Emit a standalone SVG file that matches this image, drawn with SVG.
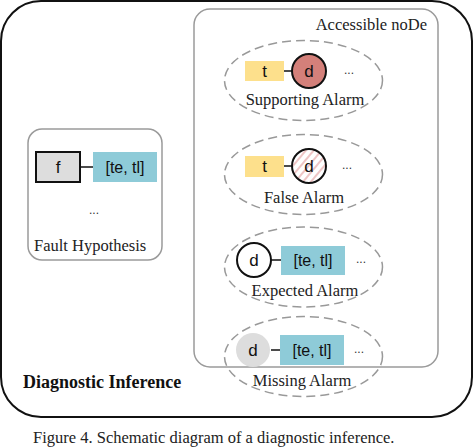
<svg xmlns="http://www.w3.org/2000/svg" width="474" height="448" viewBox="0 0 474 448">
<defs>
<pattern id="hatch" patternUnits="userSpaceOnUse" width="6" height="6" patternTransform="rotate(40)">
<rect width="6" height="6" fill="#ffffff"/>
<line x1="1" y1="0" x2="1" y2="6" stroke="#de8c8c" stroke-width="1"/>
</pattern>
</defs>
<style>
.frame{fill:#fff;stroke:#111;stroke-width:2}
.box{fill:#fff;stroke:#9a9a9a;stroke-width:1.5}
.ell{fill:none;stroke:#999;stroke-width:1.5;stroke-dasharray:9 5}
.serif{font-family:"Liberation Serif","Times New Roman",serif;font-size:16.5px;fill:#222}
.sans{font-family:"Liberation Sans",Arial,sans-serif;font-size:16px;fill:#111}
.lt{font-size:17px}
.yel{fill:#fde08c}
.blu{fill:#8ecbd8}
.dc{stroke:#111;stroke-width:2}
.ln{stroke:#111;stroke-width:1.5}
.dots{font-family:"Liberation Sans",Arial,sans-serif;font-size:12px;fill:#333}
</style>
<rect class="frame" x="1" y="1" width="471" height="416" rx="40"/>
<text class="serif" x="33" y="443">Figure 4. Schematic diagram of a diagnostic inference.</text>
<text class="serif" x="23" y="388" style="font-weight:bold;fill:#111;font-size:18px">Diagnostic Inference</text>

<g id="fault-hypothesis">
<rect class="box" x="28" y="129" width="134" height="131" rx="14"/>
<rect x="36" y="152" width="44" height="30" fill="#dddddd" stroke="#111" stroke-width="2"/>
<text class="sans lt" x="58" y="173" text-anchor="middle">f</text>
<rect class="blu" x="93" y="152" width="64" height="30"/>
<text class="sans" x="125" y="173" text-anchor="middle">[te, tl]</text>
<text class="dots" x="94" y="214" text-anchor="middle">...</text>
<text class="serif" x="34" y="251">Fault Hypothesis</text>
</g>

<g id="accessible-node">
<rect class="box" x="194" y="9" width="244" height="358" rx="16"/>
<text class="serif" x="427" y="30" text-anchor="end">Accessible noDe</text>
</g>

<g id="connectors">
<line class="ln" x1="284" y1="71" x2="292" y2="71"/>
<line class="ln" x1="284" y1="166" x2="292" y2="166"/>
<line class="ln" x1="271" y1="260" x2="281" y2="260"/>
<line class="ln" x1="271" y1="350" x2="280" y2="350"/>
<line class="ln" x1="80" y1="167" x2="93" y2="167"/>
</g>

<g id="supporting-alarm">
<ellipse class="ell" cx="303.5" cy="80.5" rx="79" ry="40"/>
<rect class="yel" x="245" y="61" width="39" height="20"/>
<text class="sans lt" x="264.5" y="77" text-anchor="middle">t</text>
<circle class="dc" cx="309" cy="71" r="17" fill="#d4807a"/>
<text class="sans lt" x="309" y="77" text-anchor="middle">d</text>
<text class="dots" x="349" y="74" text-anchor="middle">...</text>
<text class="serif" x="305" y="105" text-anchor="middle">Supporting Alarm</text>
</g>

<g id="false-alarm">
<ellipse class="ell" cx="303.5" cy="174.5" rx="79" ry="40"/>
<rect class="yel" x="245" y="156" width="39" height="21"/>
<text class="sans lt" x="264.5" y="172" text-anchor="middle">t</text>
<circle class="dc" cx="309" cy="166" r="17" fill="url(#hatch)"/>
<text class="sans lt" x="309" y="172" text-anchor="middle">d</text>
<text class="dots" x="347" y="169" text-anchor="middle">...</text>
<text class="serif" x="304" y="203" text-anchor="middle">False Alarm</text>
</g>

<g id="expected-alarm">
<ellipse class="ell" cx="303.5" cy="267" rx="79" ry="40"/>
<circle class="dc" cx="254" cy="260" r="17" fill="#fff"/>
<text class="sans lt" x="254" y="266" text-anchor="middle">d</text>
<rect class="blu" x="281" y="246" width="64" height="29"/>
<text class="sans" x="313" y="266" text-anchor="middle">[te, tl]</text>
<text class="dots" x="361" y="263" text-anchor="middle">...</text>
<text class="serif" x="305" y="296" text-anchor="middle">Expected Alarm</text>
</g>

<g id="missing-alarm">
<ellipse class="ell" cx="303.5" cy="356.5" rx="79" ry="40"/>
<circle cx="253" cy="350" r="17" fill="#dddddd"/>
<text class="sans lt" x="253" y="356" text-anchor="middle">d</text>
<rect class="blu" x="280" y="335" width="64" height="30"/>
<text class="sans" x="312" y="356" text-anchor="middle">[te, tl]</text>
<text class="dots" x="359" y="353" text-anchor="middle">...</text>
<text class="serif" x="302" y="386" text-anchor="middle">Missing Alarm</text>
</g>
</svg>
